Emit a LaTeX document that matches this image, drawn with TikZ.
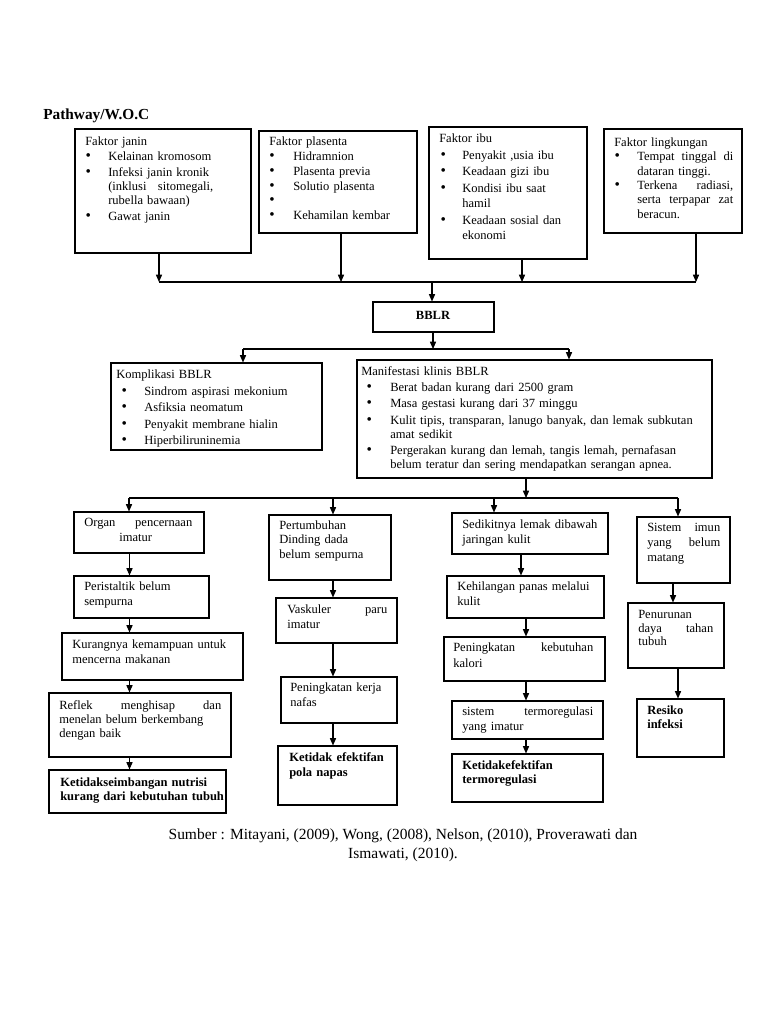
\documentclass[tikz,border=0pt]{standalone}
\usepackage{fontspec}
\setmainfont{Liberation Serif}
\usetikzlibrary{arrows.meta,fit}
\setlength{\parindent}{0pt}
\hyphenpenalty=10000
\exhyphenpenalty=10000
\newlength\bind \newlength\bsh \newlength\bgap
\newcommand\bitem{\par\vspace{\bgap}\hangindent=\bind\hangafter=1\noindent\makebox[\bind][l]{\hspace{\bsh}{\fontsize{11.5}{11}\selectfont\textbullet}}}
\newcommand\bset[3]{\setlength\bind{#1}\setlength\bsh{#2}\setlength\bgap{#3}}
\newcommand\vlink[3]{\draw[arr] (#1.south -| #3) -- (#2.north -| #3);}
\newcommand\nl{\newline}
\tikzset{
  box/.style={draw, line width=0.8pt, inner sep=0pt},
  txt/.style={anchor=north west, inner sep=0pt, align=left, font=\fontsize{9.4}{#1}\selectfont},
  txt/.default=11.25pt,
  btxt/.style={anchor=north west, inner sep=0pt, align=left, font=\fontsize{9.4}{#1}\selectfont\bfseries},
  btxt/.default=10.5pt,
  arr/.style={-{Triangle[length=5.5pt,width=4.6pt]}, line width=0.8pt},
  busline/.style={line width=0.8pt}
}
\begin{document}
\begin{tikzpicture}[x=0.75pt,y=-0.75pt]
\fill[white] (0,0) rectangle (768,1024);
\useasboundingbox (0,0) rectangle (768,1024);

% title
\node[anchor=base west, inner sep=0pt, font=\fontsize{11.5}{13}\selectfont\bfseries] (title) at (43,119) {Pathway/W.O.C};

% top row boxes
\node[box, fit={(75,129) (251,253)}] (fj) {};
\node[box, fit={(259,131) (417,233)}] (fp) {};
\node[box, fit={(429,127) (587,259)}] (fi) {};
\node[box, fit={(604,129) (742,233)}] (fl) {};

\node[txt=10.6pt, text width=96pt] (tfj) at (85,135) {\bset{17.25pt}{0.2pt}{1.2pt}\strut Faktor janin
\bitem Kelainan kromosom
\bitem Infeksi janin kronik\nl(inklusi\hfill sitomegali,\nl rubella bawaan)
\bitem Gawat janin\par};

\node[txt=11.1pt, text width=110pt] (tfp) at (269,135) {\bset{18pt}{0pt}{0pt}\strut Faktor plasenta
\bitem Hidramnion
\bitem Plasenta previa
\bitem Solutio plasenta
\bitem\strut
\bitem Kehamilan kembar\par};

\node[txt=11.25pt, text width=110pt] (tfi) at (439,132) {\bset{17.25pt}{1pt}{1.2pt}\strut Faktor ibu
\bitem Penyakit ,usia ibu
\bitem Keadaan gizi ibu
\bitem Kondisi ibu saat\nl hamil
\bitem Keadaan sosial dan\nl ekonomi\par};

\node[txt=10.8pt, text width=89.25pt] (tfl) at (614,136) {\bset{17.25pt}{0.2pt}{0pt}\strut Faktor lingkungan
\bitem Tempat\hfill tinggal\hfill di\nl dataran tinggi.
\bitem Terkena\hfill radiasi,\nl serta\hfill terpapar\hfill zat\nl beracun.\par};

% bus 1
\coordinate (b1a) at (159,282);
\coordinate (b1b) at (696,282);
\coordinate (x2) at (341,282);
\coordinate (x3) at (522,282);
\coordinate (x4) at (432,282);
\draw[busline] (b1a) -- (b1b);
\draw[arr] (fj.south -| b1a) -- (b1a);
\draw[arr] (fp.south -| x2) -- (x2);
\draw[arr] (fi.south -| x3) -- (x3);
\draw[arr] (fl.south -| b1b) -- (b1b);

% BBLR
\node[box, fit={(373,302) (494,332)}] (bblr) {};
\node[inner sep=0pt, font=\fontsize{9.4}{11}\selectfont\bfseries] (tbblr) at (433,315) {BBLR};
\draw[arr] (x4) -- (x4 |- bblr.north);

% bus 2
\coordinate (b2a) at (243,349);
\coordinate (b2b) at (569,349);
\coordinate (x5) at (433,349);
\draw[arr] (bblr.south -| x5) -- (x5);
\draw[busline] (b2a) -- (b2b);

\node[box, fit={(111,363) (322,450)}] (komp) {};
\node[box, fit={(357,360) (712,478)}] (manif) {};
\draw[arr] (b2a) -- (b2a |- komp.north);
\draw[arr] (b2b) -- (b2b |- manif.north);

\node[txt=11pt, text width=200pt] (tkomp) at (116,368) {\bset{21pt}{4pt}{1.4pt}\strut Komplikasi BBLR
\bitem Sindrom aspirasi mekonium
\bitem Asfiksia neomatum
\bitem Penyakit membrane hialin
\bitem Hiperbiliruninemia\par};

\node[txt=10.5pt, text width=255pt] (tmanif) at (361,365) {\bset{21.75pt}{4pt}{1.8pt}\strut Manifestasi klinis BBLR
\bitem Berat badan kurang dari 2500 gram
\bitem Masa gestasi kurang dari 37 minggu
\bitem Kulit tipis, transparan, lanugo banyak, dan lemak subkutan\nl amat sedikit
\bitem Pergerakan kurang dan lemah, tangis lemah, pernafasan\nl belum teratur dan sering mendapatkan serangan apnea.\par};

% bus 3
\coordinate (b3a) at (129,498);
\coordinate (b3b) at (678,498);
\coordinate (x6) at (526,498);
\coordinate (x7) at (333,498);
\coordinate (x8) at (494,498);
\draw[arr] (manif.south -| x6) -- (x6);
\draw[busline] (b3a) -- (b3b);

% column boxes
\node[box, fit={(74,512) (204,553)}] (organ) {};
\node[box, fit={(74,576) (209,618)}] (peri) {};
\node[box, fit={(62,633) (243,680)}] (kur) {};
\node[box, fit={(49,693) (231,757)}] (ref) {};
\node[box, fit={(49,770) (226,813)}] (kseimb) {};

\node[box, fit={(269,515) (391,580)}] (pert) {};
\node[box, fit={(276,598) (397,643)}] (vask) {};
\node[box, fit={(281,677) (397,723)}] (pkerja) {};
\node[box, fit={(278,746) (397,805)}] (kef) {};

\node[box, fit={(452,513) (608,554)}] (sedik) {};
\node[box, fit={(447,576) (604,618)}] (kehil) {};
\node[box, fit={(444,637) (605,681)}] (pkal) {};
\node[box, fit={(452,701) (603,739)}] (stermo) {};
\node[box, fit={(452,754) (603,802)}] (kterm) {};

\node[box, fit={(637,517) (730,583)}] (simun) {};
\node[box, fit={(628,603) (724,668)}] (penur) {};
\node[box, fit={(637,699) (724,757)}] (resiko) {};

\draw[arr] (b3a) -- (b3a |- organ.north);
\draw[arr] (x7) -- (x7 |- pert.north);
\draw[arr] (x8) -- (x8 |- sedik.north);
\draw[arr] (b3b) -- (b3b |- simun.north);

\coordinate (cA) at (129.5,0);
\coordinate (cB) at (333,0);
\coordinate (cC1) at (521,0);
\coordinate (cC) at (526,0);
\coordinate (cD1) at (673,0);
\coordinate (cD) at (678,0);
\vlink{organ}{peri}{cA}
\vlink{peri}{kur}{cA}
\vlink{kur}{ref}{cA}
\vlink{ref}{kseimb}{cA}
\vlink{pert}{vask}{cB}
\vlink{vask}{pkerja}{cB}
\vlink{pkerja}{kef}{cB}
\vlink{sedik}{kehil}{cC1}
\vlink{kehil}{pkal}{cC}
\vlink{pkal}{stermo}{cC}
\vlink{stermo}{kterm}{cC}
\vlink{simun}{penur}{cD1}
\vlink{penur}{resiko}{cD}

% column texts
\node[txt, text width=81pt] (torgan) at (84,516) {\strut Organ\hfill pencernaan\nl\hspace*{26.25pt}imatur};
\node[txt, text width=100pt] (tperi) at (84,580) {\strut Peristaltik belum\nl sempurna};
\node[txt, text width=130pt] (tkur) at (72,638) {\strut Kurangnya kemampuan untuk\nl mencerna makanan};
\node[txt=10.5pt, text width=121.5pt] (tref) at (59,699) {\strut Reflek\hfill menghisap\hfill dan\nl menelan belum berkembang\nl dengan baik};
\node[btxt, text width=130pt] (tkseimb) at (60,776) {\strut Ketidakseimbangan nutrisi\nl kurang dari kebutuhan tubuh};

\node[txt=10.9pt, text width=88pt] (tpert) at (279,519) {\strut Pertumbuhan\nl Dinding dada\nl belum sempurna};
\node[txt, text width=75pt] (tvask) at (287,603) {\strut Vaskuler\hfill paru\nl imatur};
\node[txt, text width=85pt] (tpkerja) at (290,681) {\strut Peningkatan kerja\nl nafas};
\node[btxt=11.25pt, text width=85pt] (tkef) at (289,751) {\strut Ketidak efektifan\nl pola napas};

\node[txt, text width=112pt] (tsedik) at (462,518) {\strut Sedikitnya lemak dibawah\nl jaringan kulit};
\node[txt, text width=112pt] (tkehil) at (457,580) {\strut Kehilangan panas melalui\nl kulit};
\node[txt=12pt, text width=105pt] (tpkal) at (453,640) {\strut Peningkatan\hfill kebutuhan\nl kalori};
\node[txt, text width=98.25pt] (tstermo) at (462,705) {\strut sistem\hfill termoregulasi\nl yang imatur};
\node[btxt, text width=105pt] (tkterm) at (462,759) {\strut Ketidakefektifan\nl termoregulasi};

\node[txt, text width=54.75pt] (tsimun) at (647,521) {\strut Sistem\hfill imun\nl yang\hfill belum\nl matang};
\node[txt=10.2pt, text width=56.25pt] (tpenur) at (638,609) {\strut Penurunan\nl daya\hfill tahan\nl tubuh};
\node[btxt, text width=60pt] (tresiko) at (647,704) {\strut Resiko\nl infeksi};

% source
\node[anchor=north, inner sep=0pt, align=center, font=\fontsize{11.6}{14.25}\selectfont] (sumber) at (403,826) {\strut Sumber : Mitayani, (2009), Wong, (2008), Nelson, (2010), Proverawati dan\\Ismawati, (2010).};
\end{tikzpicture}
\end{document}
